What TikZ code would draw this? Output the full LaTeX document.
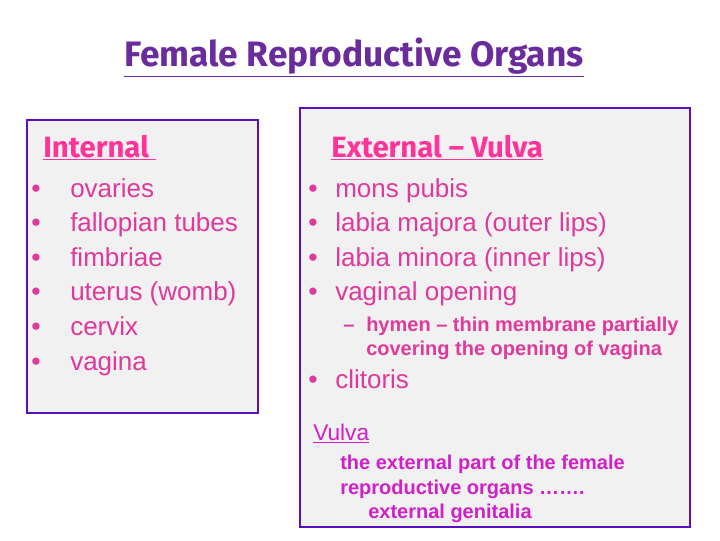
\documentclass[tikz,border=0pt]{standalone}
\usepackage{fontspec}
\setmainfont{Liberation Sans}
\newfontfamily\titlefont{Fira Sans}
\definecolor{ttl}{HTML}{6A2C9C}
\definecolor{bord}{HTML}{5B10BF}
\definecolor{pinktxt}{HTML}{E0399C}
\definecolor{hdr}{HTML}{FF3399}
\definecolor{mag}{HTML}{D020C8}
\definecolor{boxfill}{HTML}{F1F1F1}
\begin{document}
\begin{tikzpicture}[x=0.75pt,y=-0.75pt,
  panel/.style={draw=bord,line width=2.2pt,fill=boxfill},
  item/.style={anchor=base west,inner sep=0pt,text=pinktxt,font=\fontsize{19.5}{22}\selectfont},
  bul/.style={anchor=base west,inner sep=0pt,text=pinktxt,font=\fontsize{20}{22}\selectfont},
  sub/.style={anchor=base west,inner sep=0pt,text=pinktxt,font=\bfseries\fontsize{15}{17}\selectfont},
  hd/.style={anchor=base west,inner sep=0pt,text=hdr,font=\titlefont\bfseries\fontsize{22}{26}\selectfont},
  vt/.style={anchor=base west,inner sep=0pt,text=mag,font=\bfseries\fontsize{15}{17}\selectfont}]
\useasboundingbox (0,0) rectangle (720,540);
\fill[white] (0,0) rectangle (720,540);
\node[inner sep=0pt,text=ttl,font=\titlefont\bfseries\fontsize{26.5}{30}\selectfont] (title) at (354,57) {\underline{Female Reproductive Organs}};
\draw[panel] (27,120) rectangle (258,413);
\draw[panel] (300,108) rectangle (690,527);
\node[hd] (int) at (43,157) {\underline{Internal\ }};
\node[hd] (ext) at (331,157) {\underline{External – Vulva}};
\foreach \t [count=\i] in {ovaries,fallopian tubes,fimbriae,uterus (womb),cervix,vagina}{
  \pgfmathsetmacro\yy{197+34.6*(\i-1)}
  \node[bul] (lb\i) at (31,\yy) {•};
  \node[item] (l\i) at (70,\yy) {\t};
}
\foreach \t [count=\i] in {mons pubis,labia majora (outer lips),labia minora (inner lips),vaginal opening}{
  \pgfmathsetmacro\yy{197+34.6*(\i-1)}
  \node[bul] (rb\i) at (308,\yy) {•};
  \node[item] (r\i) at (335,\yy) {\t};
}
\node[sub] (dash) at (343,331) {–};
\node[sub] (hy1) at (366,331) {hymen – thin membrane partially};
\node[sub] (hy2) at (366,355) {covering the opening of vagina};
\node[bul] (rb5) at (308,388) {•};
\node[item] (r5) at (335,388) {clitoris};
\node[anchor=base west,inner sep=0pt,text=mag,font=\fontsize{17}{19}\selectfont] (vul) at (313,440) {\underline{Vulva}};
\node[vt] (v1) at (340,469) {the external part of the female};
\node[vt] (v2) at (340,494) {reproductive organs …….};
\node[vt] (v3) at (368,518) {external genitalia};
\end{tikzpicture}
\end{document}
